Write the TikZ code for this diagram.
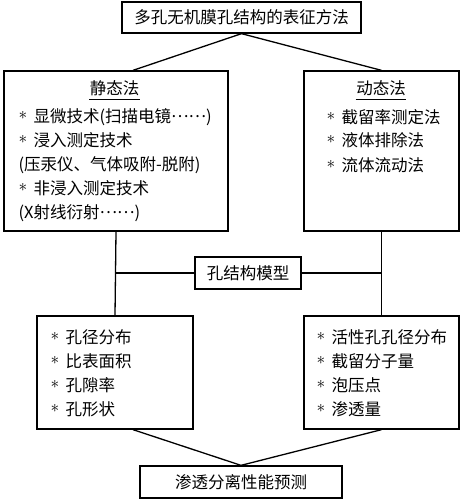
\documentclass[tikz,border=0pt]{standalone}
\usepackage{fontspec}
\newfontfamily\cjk{Noto Sans CJK SC}
\usetikzlibrary{positioning}
\newcommand\itm{\makebox[15pt][l]{\raisebox{2.5pt}{$\ast$}}}
\newcommand\middots{\raisebox{5pt}{……}}

\begin{document}
\begin{tikzpicture}[x=1pt, y=-1pt, line width=1.3pt,
    font=\cjk\fontsize{16.5}{20}\selectfont,
    box/.style={draw, inner sep=0pt, minimum width=#1},
    txt/.style={inner sep=0pt, anchor=west}]
    \useasboundingbox (0,0) rectangle (461,500);

    \node[box=239pt, minimum height=31pt] (top) at (241.5,17.5) {多孔无机膜孔结构的表征方法};
    \node[box=224pt, minimum height=160pt] (stat) at (116,151) {};
    \node[box=155pt, minimum height=160pt] (dyn) at (381.5,151) {};
    \node[box=106pt, minimum height=32pt] (mid) at (248,273) {孔结构模型};
    \node[box=156pt, minimum height=113pt] (ll) at (115,372.5) {};
    \node[box=155pt, minimum height=113pt] (lr) at (381.5,372.5) {};
    \node[box=202pt, minimum height=32pt] (bot) at (241,482) {渗透分离性能预测};

    % static methods
    \node[inner sep=0pt] (stathead) at (114.5,88) {静态法};
    \draw[line width=1pt] ([yshift=-3pt]stathead.south west) -- ([yshift=-3pt]stathead.south east);
    \node[txt] (s1) at (18,117) {\itm 显微技术(扫描电镜\middots)};
    \node[txt] (s2) at (18,140) {\itm 浸入测定技术};
    \node[txt] (s3) at (18,165) {(压汞仪、气体吸附-脱附)};
    \node[txt] (s4) at (18,188) {\itm 非浸入测定技术};
    \node[txt] (s5) at (18,213) {(X射线衍射\middots)};

    % dynamic methods
    \node[inner sep=0pt] (dynhead) at (381,88) {动态法};
    \draw[line width=1pt] ([yshift=-3pt]dynhead.south west) -- ([yshift=-3pt]dynhead.south east);
    \node[txt] (d1) at (326,117) {\itm 截留率测定法};
    \node[txt] (d2) at (326,140) {\itm 液体排除法};
    \node[txt] (d3) at (326,165) {\itm 流体流动法};

    % structure parameters
    \node[txt] (l1) at (50,337) {\itm 孔径分布};
    \node[txt] (l2) at (50,361) {\itm 比表面积};
    \node[txt] (l3) at (50,385) {\itm 孔隙率};
    \node[txt] (l4) at (50,409) {\itm 孔形状};

    \node[txt] (r1) at (316,337) {\itm 活性孔孔径分布};
    \node[txt] (r2) at (316,361) {\itm 截留分子量};
    \node[txt] (r3) at (316,385) {\itm 泡压点};
    \node[txt] (r4) at (316,409) {\itm 渗透量};

    % connectors
    \draw (top.south) -- ([xshift=17pt]stat.north);
    \draw (top.south) -- (dyn.north);
    \draw (stat.south) -- (ll.north);
    \draw (dyn.south) -- (lr.north);
    \draw (mid.west) -- (mid.west -| ll.north);
    \draw (mid.east) -- (mid.east -| lr.north);
    \draw ([xshift=18pt]ll.south) -- (bot.north);
    \draw (lr.south) -- (bot.north);
\end{tikzpicture}
\end{document}
